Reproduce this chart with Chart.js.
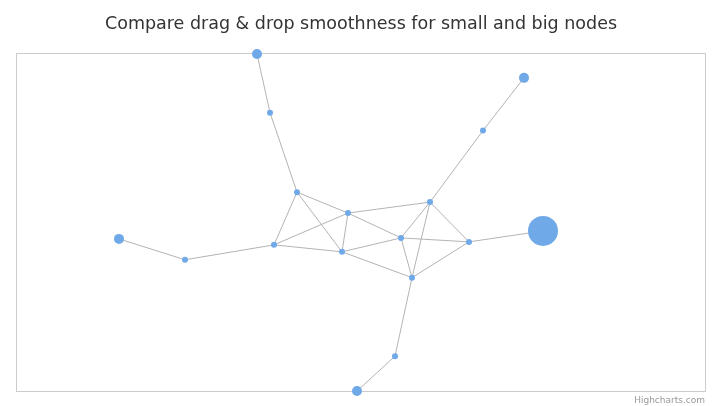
<!DOCTYPE html>
<html>
<head>
<meta charset="utf-8">
<script src="https://cdn.jsdelivr.net/npm/chart.js@4"></script>
<style>
  html, body { margin: 0; padding: 0; background: #fff; }
  #wrap { width: 721px; height: 406px; }
</style>
</head>
<body>
<div id="wrap"><canvas id="chart"></canvas></div>
<script>
// network layout (x to the right, y downwards)
const nodeNames = ["A", "B", "C", "D", "E", "F", "G", "H", "I", "J", "K", "L", "M", "N", "O", "P", "Q"];
const nodeX = [241, 254, 281, 508, 467, 414, 332, 385, 453, 527, 103, 169, 258, 326, 396, 379, 341];
const nodeY = [1, 60, 140, 25, 78, 150, 161, 186, 190, 179, 187, 208, 193, 200, 226, 305, 340];
const nodeSize = [5, 3, 3, 5, 3, 3, 3, 3, 3, 15, 5, 3, 3, 3, 3, 3, 5];
const linkFrom = ["A", "B", "D", "E", "K", "L", "C", "C", "C", "M", "M", "G", "G", "G", "N", "N", "F", "F", "F", "H", "H", "I", "O", "P", "I"];
const linkTo = ["B", "C", "E", "F", "L", "M", "M", "G", "N", "G", "N", "N", "F", "H", "H", "O", "H", "I", "O", "I", "O", "O", "P", "Q", "J"];

function pos(name) {
  const i = nodeNames.indexOf(name);
  return { x: nodeX[i], y: nodeY[i] };
}

const linkSets = linkFrom.map(function (f, i) {
  return {
    type: "scatter",
    data: [pos(f), pos(linkTo[i])],
    showLine: true,
    borderColor: "#b3b3b3",
    borderWidth: 1,
    pointRadius: 0,
    order: 2,
    clip: false,
  };
});

const frame = {
  id: "frame",
  beforeDatasetsDraw(chart) {
    const a = chart.chartArea;
    const c = chart.ctx;
    c.save();
    c.strokeStyle = "#cccccc";
    c.lineWidth = 1;
    c.strokeRect(Math.round(a.left) + 0.5, Math.round(a.top) + 0.5,
      Math.round(a.right - a.left) - 1, Math.round(a.bottom - a.top));
    c.restore();
  },
  afterDraw(chart) {
    const c = chart.ctx;
    c.save();
    c.font = "9px 'DejaVu Sans', sans-serif";
    c.fillStyle = "#999999";
    c.textAlign = "right";
    c.textBaseline = "alphabetic";
    c.fillText("Highcharts.com", 705, 403);
    c.restore();
  },
};

const ctx = document.getElementById("chart").getContext("2d");

new Chart(ctx, {
  type: "scatter",
  data: {
    datasets: [
      {
        label: "Nodes",
        data: nodeNames.map(n => pos(n)),
        pointRadius: nodeSize,
        pointHoverRadius: nodeSize,
        pointBackgroundColor: "#6fa9e8",
        pointBorderWidth: 0,
        order: 1,
        clip: false,
      },
    ].concat(linkSets),
  },
  options: {
    responsive: true,
    maintainAspectRatio: false,
    animation: false,
    layout: {
      padding: { left: 16, right: 15, top: 0, bottom: 12 },
    },
    scales: {
      x: { display: false, min: 0, max: 690 },
      y: { display: false, min: 0, max: 340, reverse: true },
    },
    plugins: {
      legend: { display: false },
      tooltip: { enabled: false },
      title: {
        display: true,
        text: "Compare drag & drop smoothness for small and big nodes",
        color: "#333333",
        font: { family: "'DejaVu Sans', sans-serif", size: 17.5, weight: "normal" },
        padding: { top: 14, bottom: 18 },
      },
    },
  },
  plugins: [frame],
});
</script>
</body>
</html>
